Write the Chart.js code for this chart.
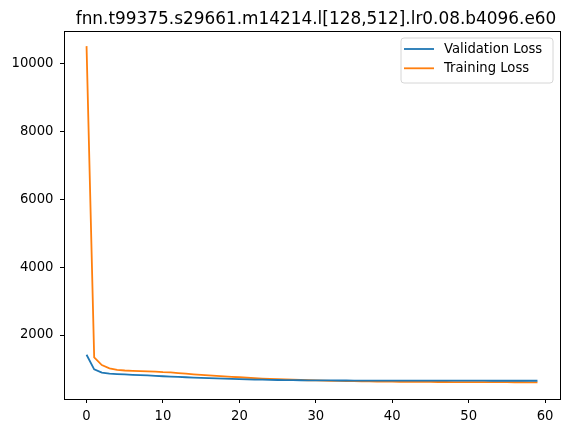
<!DOCTYPE html>
<html>
<head>
<meta charset="utf-8">
<script src="https://cdn.jsdelivr.net/npm/chart.js@4.4.1/dist/chart.umd.min.js"></script>
<style>
  html, body { margin: 0; padding: 0; background: #fff; }
  #wrap { width: 570px; height: 433px; position: relative; }
</style>
</head>
<body>
<div id="wrap"><canvas id="c" width="570" height="433"></canvas></div>
<script>
const chartTitle = "fnn.t99375.s29661.m14214.l[128,512].lr0.08.b4096.e60";
const seriesNames = ["Validation Loss", "Training Loss"];
const epochs = Array.from({length: 60}, (_, i) => i);
const validationLoss = [
  1420, 990, 890, 862, 848, 838, 828, 818, 808, 797,
  785, 776, 766, 756, 746, 737, 728, 720, 712, 705,
  699, 693, 688, 683, 679, 675, 672, 669, 667, 665,
  663, 662, 661, 660, 659, 658, 658, 657, 657, 656,
  656, 656, 655, 655, 655, 654, 654, 654, 654, 653,
  653, 653, 653, 652, 652, 652, 652, 652, 652, 652
];
const trainingLoss = [
  10520, 1340, 1115, 1020, 970, 955, 945, 935, 928, 920,
  905, 898, 880, 860, 840, 823, 808, 795, 782, 768,
  755, 740, 728, 716, 706, 698, 690, 682, 674, 667,
  661, 656, 651, 647, 643, 639, 636, 633, 630, 627,
  625, 623, 621, 619, 618, 617, 616, 615, 614, 613,
  612, 611, 611, 610, 609, 609, 608, 608, 607, 607
];
const xTicks = [0, 10, 20, 30, 40, 50, 60];
const yTicks = [2000, 4000, 6000, 8000, 10000];
const colors = ["#1f77b4", "#ff7f0e"];

const FONT = "'DejaVu Sans', sans-serif";
const TICK_SIZE = 13.2;

const framePlugin = {
  id: 'frame',
  afterDatasetsDraw(chart) {
    const {ctx, chartArea: a} = chart;
    ctx.save();
    ctx.strokeStyle = '#000';
    ctx.lineWidth = 1;
    ctx.strokeRect(Math.round(a.left) + 0.5, Math.round(a.top) + 0.5,
                   Math.round(a.right - a.left), Math.round(a.bottom - a.top));
    ctx.restore();
  },
  afterDraw(chart) {
    const {ctx} = chart;
    ctx.save();
    ctx.fillStyle = '#000';
    ctx.font = "16.9px " + FONT;
    ctx.textAlign = 'center';
    ctx.textBaseline = 'alphabetic';
    const a = chart.chartArea;
    ctx.fillText(chartTitle, (a.left + a.right) / 2 + 4, 24);
    // legend
    const bx = 401, by = 38, bw = 152, bh = 45, r = 3;
    ctx.beginPath();
    ctx.moveTo(bx + r, by);
    ctx.arcTo(bx + bw, by, bx + bw, by + bh, r);
    ctx.arcTo(bx + bw, by + bh, bx, by + bh, r);
    ctx.arcTo(bx, by + bh, bx, by, r);
    ctx.arcTo(bx, by, bx + bw, by, r);
    ctx.closePath();
    ctx.fillStyle = 'rgba(255,255,255,0.8)';
    ctx.fill();
    ctx.strokeStyle = '#d6d6d6';
    ctx.lineWidth = 1;
    ctx.stroke();
    ctx.font = TICK_SIZE + "px " + FONT;
    ctx.textAlign = 'left';
    ctx.textBaseline = 'middle';
    chart.data.datasets.forEach((ds, i) => {
      const y = 49 + i * 19.3;
      ctx.strokeStyle = ds.borderColor;
      ctx.lineWidth = 1.8;
      ctx.beginPath();
      ctx.moveTo(404, y);
      ctx.lineTo(434, y);
      ctx.stroke();
      ctx.fillStyle = '#000';
      ctx.fillText(ds.label, 444, y + 0.5);
    });
    ctx.restore();
  }
};

new Chart(document.getElementById('c'), {
  type: 'line',
  data: {
    datasets: [
      {
        label: seriesNames[0],
        data: epochs.map((e, i) => ({x: e, y: validationLoss[i]})),
        borderColor: colors[0],
        backgroundColor: colors[0],
        borderWidth: 1.8,
        pointRadius: 0,
        tension: 0,
        fill: false
      },
      {
        label: seriesNames[1],
        data: epochs.map((e, i) => ({x: e, y: trainingLoss[i]})),
        borderColor: colors[1],
        backgroundColor: colors[1],
        borderWidth: 1.8,
        pointRadius: 0,
        tension: 0,
        fill: false
      }
    ]
  },
  options: {
    responsive: false,
    animation: false,
    devicePixelRatio: 1,
    layout: { padding: { top: 31, right: 10, left: 0, bottom: 0 } },
    plugins: {
      legend: { display: false },
      title: { display: false },
      tooltip: { enabled: false }
    },
    scales: {
      x: {
        type: 'linear',
        min: -2.95,
        max: 61.95,
        afterBuildTicks(axis) { axis.ticks = xTicks.map(v => ({value: v})); },
        afterFit(axis) { axis.height = 34; },
        grid: { drawOnChartArea: false, drawTicks: true, tickLength: 4, tickColor: '#000', color: '#000' },
        border: { display: true, color: '#000', width: 1 },
        ticks: { color: '#000', font: { family: FONT, size: TICK_SIZE }, padding: 6, maxRotation: 0, autoSkip: false,
                 callback: v => String(v) }
      },
      y: {
        type: 'linear',
        min: 114,
        max: 10966,
        afterBuildTicks(axis) { axis.ticks = yTicks.map(v => ({value: v})); },
        afterFit(axis) { axis.width = 64; },
        grid: { drawOnChartArea: false, drawTicks: true, tickLength: 4, tickColor: '#000', color: '#000' },
        border: { display: true, color: '#000', width: 1 },
        ticks: { color: '#000', font: { family: FONT, size: TICK_SIZE }, padding: 6.5, autoSkip: false,
                 callback: v => String(v) }
      }
    }
  },
  plugins: [framePlugin]
});
</script>
</body>
</html>
